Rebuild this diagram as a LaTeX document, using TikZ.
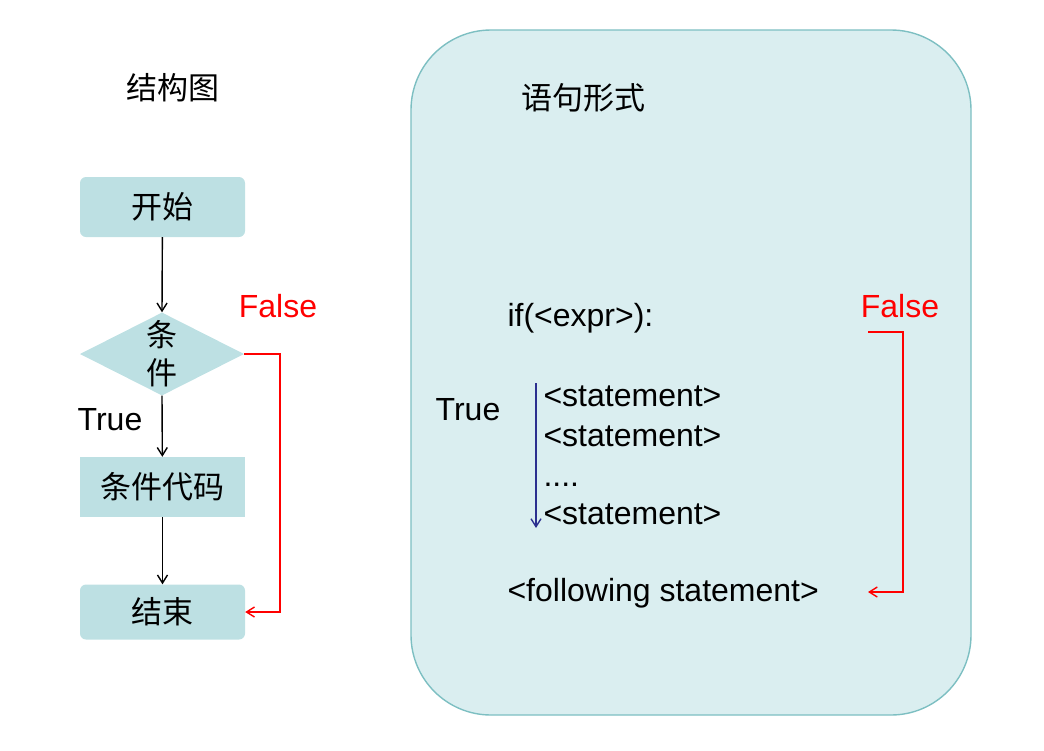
\documentclass[tikz,border=0pt]{standalone}
\usepackage{fontspec}
\setmainfont{Liberation Sans}
\newfontfamily\cjk{Noto Sans CJK SC}
\usetikzlibrary{shapes.geometric,arrows.meta}
\definecolor{boxc}{HTML}{BDE0E3}
\definecolor{panel}{HTML}{DAEEF0}
\definecolor{panelb}{HTML}{7DBFC2}
\definecolor{darkblue}{HTML}{2B2F8F}
\tikzset{x=1pt,y=-1pt,
 cn/.style={font=\cjk\fontsize{31}{34}\selectfont},
 en/.style={font=\fontsize{32}{36}\selectfont},
 fbox/.style={fill=boxc,minimum width=165pt,inner sep=0pt,cn},
 arr/.style={-{Straight Barb[length=8pt,width=10pt]},line width=1.4pt},
 red/.style={arr,draw=red}}
\begin{document}
\begin{tikzpicture}
\useasboundingbox (0,0) rectangle (1044,750);
\node[cn] (t1) at (173,88) {结构图};
\node[fbox,rounded corners=6pt,minimum height=60pt] (s) at (162.5,207) {开始};
\node[diamond,fill=boxc,minimum width=163pt,minimum height=83pt,inner sep=0pt,aspect=2,align=center,font=\cjk\fontsize{31}{38}\selectfont] (c) at (162,354) {条\\件};
\node[fbox,minimum height=60pt] (code) at (162.5,487) {条件代码};
\node[fbox,rounded corners=6pt,minimum height=55pt] (e) at (162.5,612) {结束};
\draw[arr] (s) -- (c.north);
\draw[arr] (c.south) -- (code);
\draw[arr] (code) -- (e);
\node[en] (tr1) at (110,420) {True};
\node[en,text=red] (f1) at (278,306) {False};
\coordinate (r1) at (280,354);
\coordinate (r2) at (280,612);
\draw[red] (c.east) -- (r1) -- (r2) -- (e.east);
\draw[fill=panel,draw=panelb,line width=1.4pt,rounded corners=80pt] (411,30) rectangle (971,715);
\node[cn] (t2) at (583,98) {语句形式};
\node[en,anchor=west] (if) at (504,318) {if(<expr>):};
\node[en] (tr2) at (468,410) {True};
\node[en,anchor=west] (st1) at (540,396) {<statement>};
\node[en,anchor=west] (st2) at (540,436) {<statement>};
\node[en,anchor=west,anchor=base west] (st3) at (540,486) {....};
\node[en,anchor=west] (st4) at (540,514) {<statement>};
\node[en,anchor=west] (fol) at (504,593) {<following statement>};
\coordinate (b1) at (536,383);
\coordinate (b2) at (536,528);
\draw[arr,draw=darkblue] (b1) -- (b2);
\node[en,text=red] (f2) at (900,306) {False};
\coordinate (q0) at (868,332);
\coordinate (q1) at (903,332);
\coordinate (q2) at (903,592);
\coordinate (q3) at (868,592);
\draw[red] (q0) -- (q1) -- (q2) -- (q3);
\end{tikzpicture}
\end{document}
